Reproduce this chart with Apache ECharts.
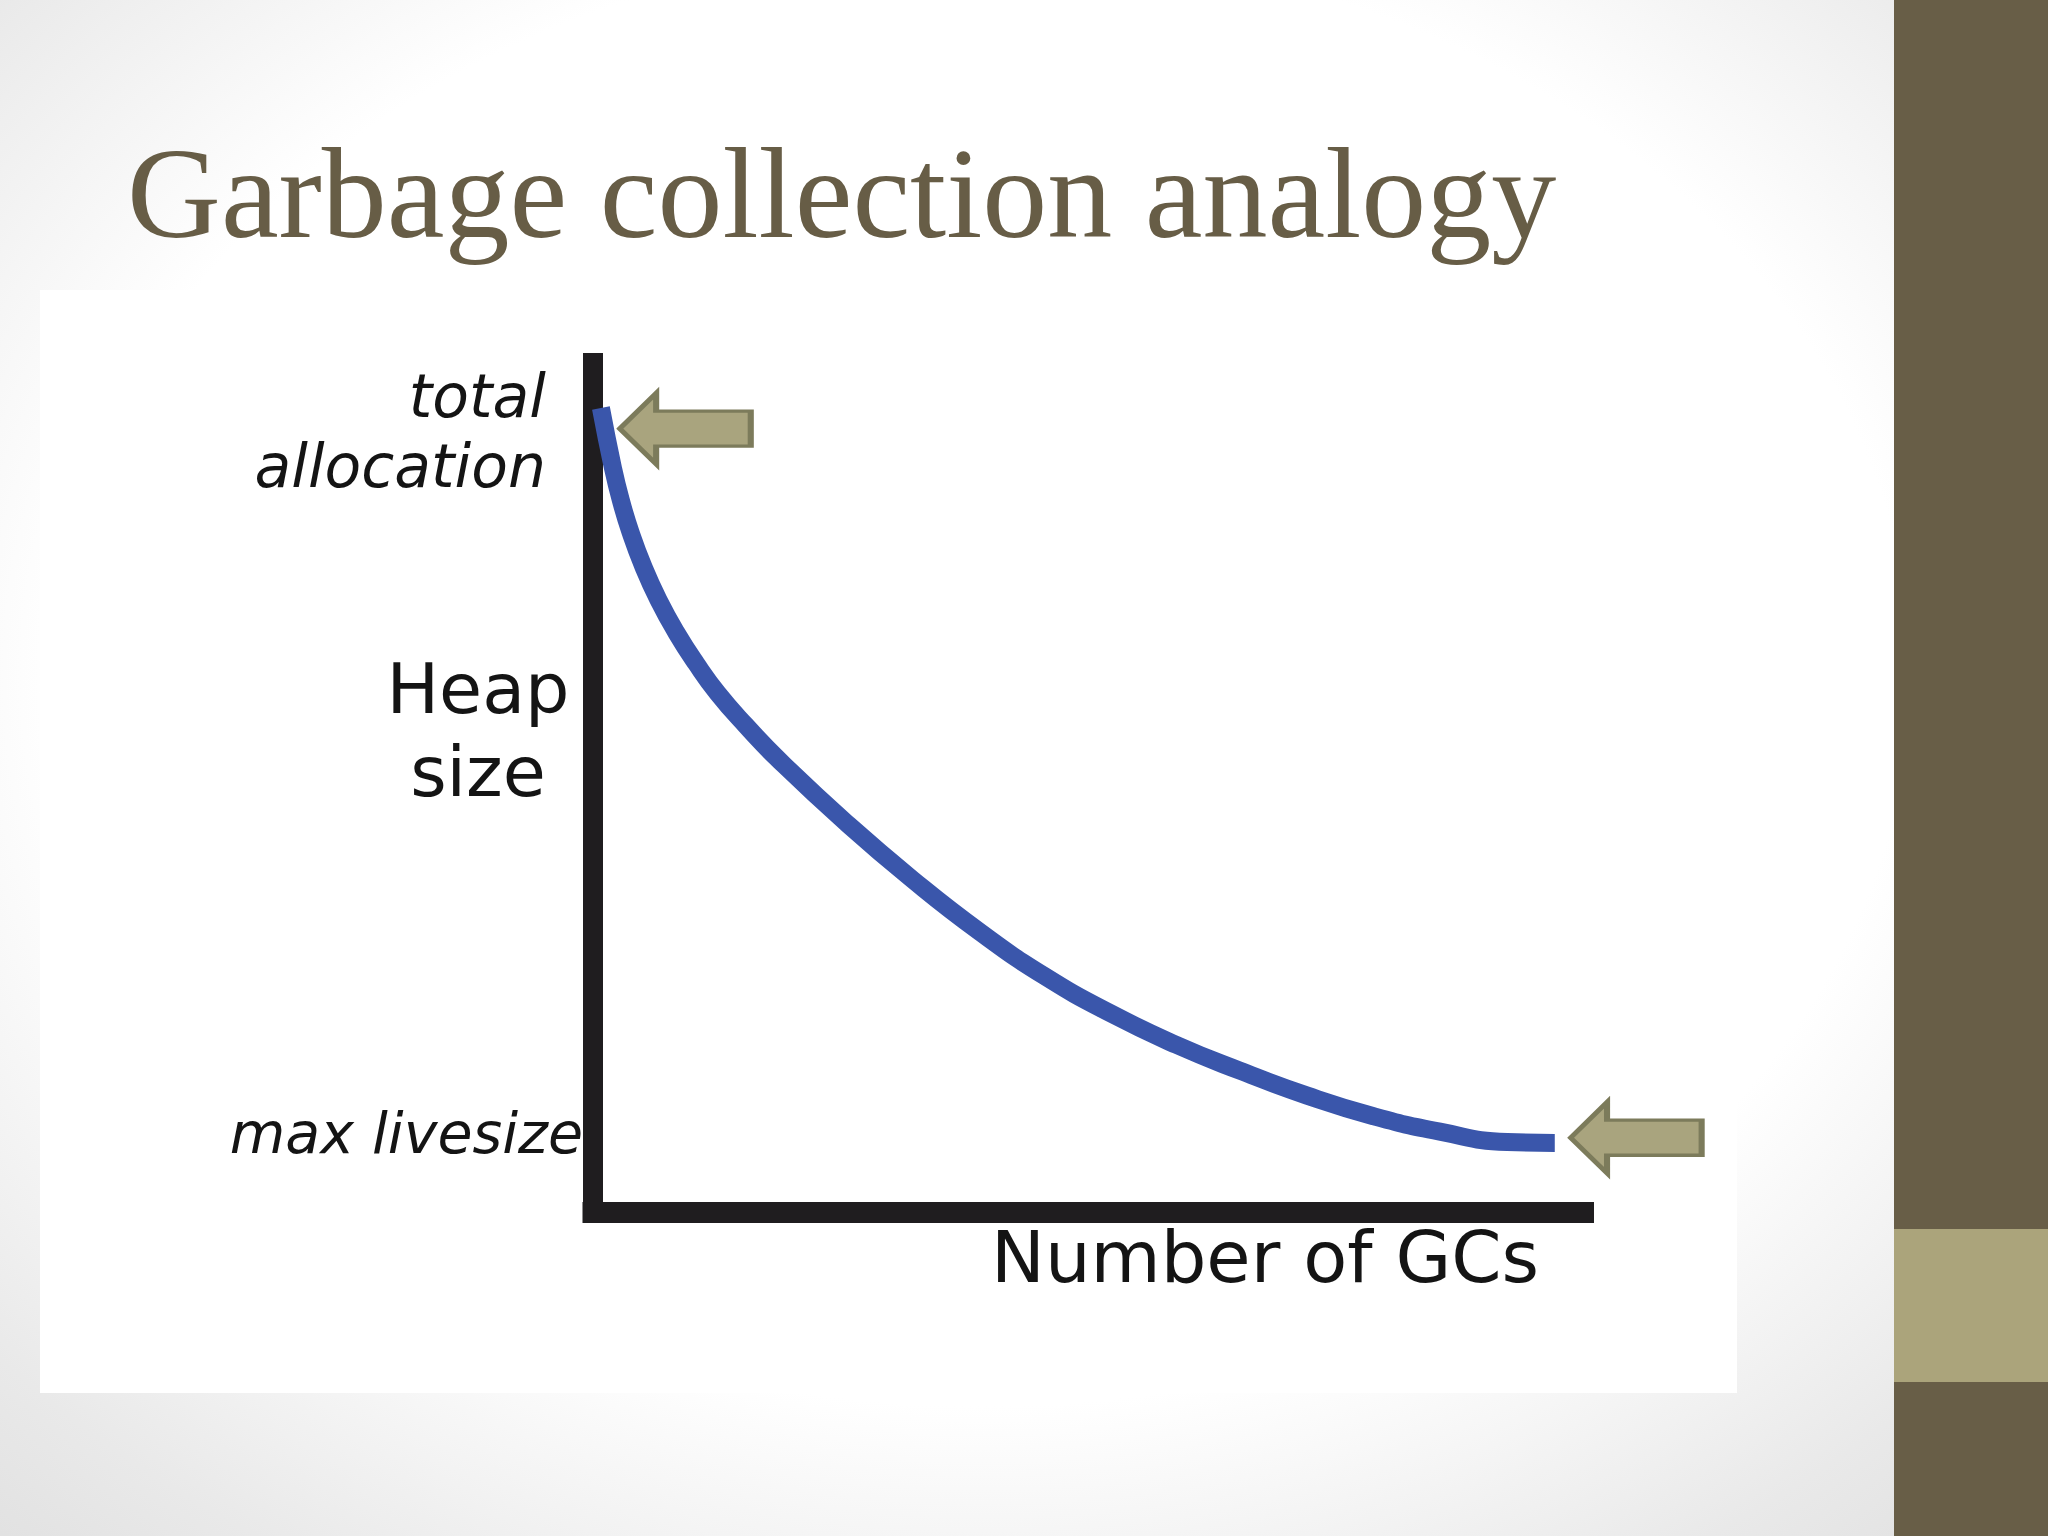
<!DOCTYPE html>
<html>
<head>
<meta charset="utf-8">
<script src="https://cdn.jsdelivr.net/npm/echarts@6/dist/echarts.min.js"></script>
<style>
  html, body { margin: 0; padding: 0; }
  #c { width: 2048px; height: 1536px;
       background: radial-gradient(ellipse 78% 82% at 48% 44%, #ffffff 58%, #e9e9e9 82%, #dcdcdc 100%); }
</style>
</head>
<body>
<div id="c"></div>
<script>
// ---- data ----
const gcCount  = [0.8, 2.0, 2.8, 3.8, 5.1, 6.6, 8.4, 10.4, 12.6, 15.4, 18.9, 25.6, 32.3, 39.1, 45.6, 52.2, 58.9, 65.3, 72.1, 78.8, 85.5, 92.3, 97.1];
const heapSize = [93.6, 86.7, 82.9, 79.1, 75.1, 71.3, 67.5, 63.9, 60.4, 56.7, 52.5, 45.3, 38.7, 32.6, 27.5, 23.2, 19.5, 16.5, 13.6, 11.2, 9.4, 8.2, 8.1];

const yTickValues = [90.9, 56.1, 9.3];
const yTickLabels = ['total\nallocation', 'Heap\nsize', 'max livesize'];

const arrowTipX = [2.5, 98.5];
const arrowTipY = [91.2, 8.7];

const titleText = 'Garbage collection analogy';
const xAxisName = 'Number of GCs';

// ---- chart ----
const chart = echarts.init(document.getElementById('c'), null, { renderer: 'svg' });

const labelKeys = ['it', 'hp', 'lv'];
function yLabel(v) {
  const i = yTickValues.findIndex(t => Math.abs(t - v) < 1e-6);
  if (i < 0) return '';
  return yTickLabels[i].split('\n').map(s => '{' + labelKeys[i] + '|' + s + '}').join('\n');
}

const curve = gcCount.map((x, i) => [x, heapSize[i]]);
const arrows = arrowTipX.map((x, i) => ({ coord: [x, arrowTipY[i]] }));

const option = {
  backgroundColor: 'transparent',
  animation: false,
  title: {
    text: titleText,
    left: 127,
    top: 128,
    padding: 0,
    textStyle: {
      fontFamily: 'Liberation Serif',
      fontSize: 130,
      lineHeight: 130,
      fontWeight: 'normal',
      color: '#675d46'
    }
  },
  graphic: [
    { type: 'rect', z: -10, shape: { x: 40, y: 290, width: 1697, height: 1103 }, style: { fill: '#ffffff' } },
    { type: 'rect', z: -10, shape: { x: 1894, y: 0, width: 154, height: 1536 }, style: { fill: '#685e47' } },
    { type: 'rect', z: -9, shape: { x: 1894, y: 1229, width: 154, height: 153 }, style: { fill: '#aba47b' } }
  ],
  grid: {
    left: 593, right: 464.5, top: 353, bottom: 323.5,
    containLabel: false, outerBoundsMode: 'none'
  },
  xAxis: {
    type: 'value', min: 0, max: 100,
    name: xAxisName,
    nameLocation: 'end',
    nameGap: -44.5,
    nameTextStyle: {
      fontFamily: 'DejaVu Sans', fontSize: 72, lineHeight: 72, color: '#141414',
      align: 'right', verticalAlign: 'top', padding: [8, 0, 0, 0]
    },
    axisLine: { show: true, onZero: false, lineStyle: { color: '#1f1d1f', width: 21, cap: 'square' } },
    axisTick: { show: false },
    axisLabel: { show: false },
    splitLine: { show: false }
  },
  yAxis: {
    type: 'value', min: 0, max: 100,
    axisLine: { show: true, onZero: false, lineStyle: { color: '#1f1d1f', width: 20, cap: 'butt' } },
    axisTick: { show: false },
    splitLine: { show: false },
    axisLabel: {
      show: true,
      customValues: yTickValues,
      margin: 10,
      formatter: yLabel,
      rich: {
        it: { fontFamily: 'DejaVu Sans', fontStyle: 'italic', fontSize: 60, lineHeight: 70, color: '#141414', padding: [0, 37, 0, 0], align: 'right' },
        hp: { fontFamily: 'DejaVu Sans', fontSize: 70, lineHeight: 83, color: '#141414', width: 210, align: 'center' },
        lv: { fontFamily: 'DejaVu Sans', fontStyle: 'italic', fontSize: 57, lineHeight: 64, color: '#141414', align: 'right' }
      }
    }
  },
  series: [{
    type: 'line',
    data: curve,
    smooth: 0.5,
    symbol: 'none',
    z: 3,
    lineStyle: { color: '#3a56ab', width: 18, cap: 'butt' },
    markPoint: {
      silent: true,
      symbol: 'path://M0,37.5 L37.5,0 L37.5,19 L135,19 L135,56 L37.5,56 L37.5,75 Z',
      symbolSize: [131, 71],
      symbolOffset: [67.5, 0],
      itemStyle: { color: '#a9a47e', borderColor: '#7c7b5b', borderWidth: 4.5 },
      label: { show: false },
      data: arrows
    }
  }]
};
chart.setOption(option);
</script>
</body>
</html>
